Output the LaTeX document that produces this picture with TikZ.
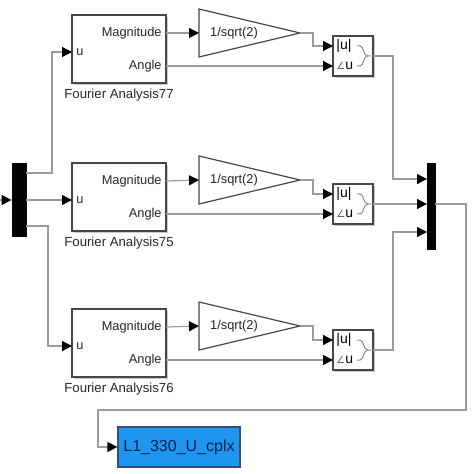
\documentclass[tikz,border=0pt]{standalone}
\usepackage{fontspec}
\setmainfont{Liberation Sans}
\newfontfamily\djv{DejaVu Sans}
\usetikzlibrary{arrows.meta,shadows}
\definecolor{wire}{RGB}{155,155,155}
\definecolor{blk}{RGB}{70,70,70}
\definecolor{simblue}{RGB}{30,150,240}
\definecolor{navy}{RGB}{10,30,80}
\begin{document}
\begin{tikzpicture}[x=0.5pt,y=-0.5pt,
  wirestyle/.style={draw=wire, line width=0.6pt},
  arr/.style={wirestyle, -{Triangle[length=5pt,width=5pt,black]}},
  block/.style={draw=blk, line width=0.6pt, fill=white, inner sep=0pt,
    drop shadow={shadow xshift=0.8pt, shadow yshift=-0.8pt, fill=black!35, opacity=0.6}},
  fablock/.style={block, minimum width=47pt, minimum height=34pt},
  mablock/.style={block, minimum width=20pt, minimum height=20pt},
  bar/.style={fill=black, draw=black, inner sep=0pt},
  lbl/.style={font=\fontsize{6.4}{7}\selectfont, inner sep=0pt, text=black!85},
  captext/.style={font=\fontsize{6.6}{8}\selectfont, inner sep=0pt, text=black!85},
  gainshape/.style={draw=blk, line width=0.6pt, fill=white},
  icon/.style={draw=black!45, line width=0.5pt},
]
\useasboundingbox (0,0) rectangle (474,474);

% ---------- demux ----------
\node[bar, minimum width=7pt, minimum height=36.5pt] (dmx) at (19,199.5) {};
\coordinate (in) at (0,200);
\draw[arr] (in) -- (dmx.west |- in);
\coordinate (d1) at (26,173);
\coordinate (d2) at (26,200);
\coordinate (d3) at (26,226);

% ---------- Fourier blocks ----------
\node[fablock] (fa77) at (119,49) {};
\node[fablock] (fa75) at (119,197) {};
\node[fablock] (fa76) at (119,343) {};
\foreach \n/\c in {77/49,75/197,76/343}{
  \node[lbl, anchor=west] (fa\n u) at (76,\c+3) {u};
  \node[lbl, anchor=east] (fa\n m) at (162,\c-16) {Magnitude};
  \node[lbl, anchor=east] (fa\n a) at (162,\c+17) {Angle};
  \node[captext] (fa\n l) at (119,\c+46) {Fourier Analysis\n};
  \coordinate (fa\n in) at (72,\c+3);
  \coordinate (fa\n mo) at (166,\c-16);
  \coordinate (fa\n ao) at (166,\c+17);
}

% ---------- gains ----------
\foreach \n/\t in {77/33,75/180,76/326}{
  \draw[gainshape] (199,\t-24) -- (300,\t) -- (199,\t+24) -- cycle;
  \node[lbl] (g\n) at (234,\t) {1/sqrt(2)};
  \coordinate (g\n i) at (199,\t);
  \coordinate (g\n o) at (300,\t);
}

% ---------- magnitude-angle to complex ----------
\node[mablock] (ma77) at (353,56) {};
\node[mablock] (ma75) at (353,204) {};
\node[mablock] (ma76) at (353,350) {};
\foreach \n/\c in {77/56,75/204,76/350}{
  \node[font=\fontsize{7}{8}\selectfont, inner sep=0pt, anchor=west] (ma\n t1) at (336,\c-10) {|u|};
  \node[font=\fontsize{7}{8}\selectfont, inner sep=0pt, anchor=west] (ma\n t2) at (336,\c+10) {{\djv\fontsize{5}{6}\selectfont\color{black!60}∠}u};
  \draw[icon] (357,\c-10) -- (360,\c-10) .. controls (364,\c-10) and (363,\c) .. (368,\c) -- (371,\c);
  \draw[icon] (357,\c+10) -- (360,\c+10) .. controls (364,\c+10) and (363,\c) .. (368,\c);
  \coordinate (ma\n a) at (333,\c-10);
  \coordinate (ma\n b) at (333,\c+10);
  \coordinate (ma\n o) at (373,\c);
}

% ---------- mux ----------
\node[bar, minimum width=4pt, minimum height=43pt] (mux) at (431,206) {};
\coordinate (m1) at (427,179);
\coordinate (m2) at (427,204);
\coordinate (m3) at (427,232);
\coordinate (mo) at (435,204);

% ---------- output block ----------
\node[draw=navy!80, line width=0.6pt, fill=simblue, minimum width=61pt, minimum height=20pt,
      inner sep=0pt, text=navy, font=\fontsize{8}{9}\selectfont] (out) at (179,447) {L1\_330\_U\_cplx};

% ---------- wires ----------
\draw[arr] (d1) -- (52,173) -- (52,52) -- (fa77in);
\draw[arr] (d2) -- (fa75in);
\draw[arr] (d3) -- (48,226) -- (48,346) -- (fa76in);

\foreach \n in {77,75,76}{
  \draw[arr] (fa\n mo) -- (g\n i);
  \draw[arr] (fa\n ao) -- (ma\n b);
  \draw[arr] (g\n o) -- ++(13,0) |- (ma\n a);
}

\draw[arr] (ma77o) -- (393,56) |- (m1);
\draw[arr] (ma75o) -- (m2);
\draw[arr] (ma76o) -- (393,350) |- (m3);

\draw[arr] (mo) -- (466,204) -- (466,410) -- (98,410) |- (out.west);
\end{tikzpicture}
\end{document}
